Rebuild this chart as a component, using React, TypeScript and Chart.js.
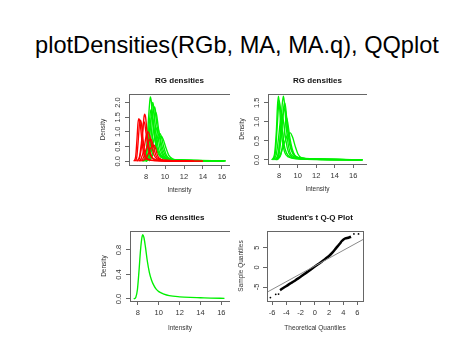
import React, { useEffect, useRef } from "react";
import { Chart, registerables } from "chart.js";
Chart.register(...registerables);

const FONT = "'Liberation Sans', Arial, Helvetica, sans-serif";

type Pt = [number, number];

// ---------- Panel 1 : RG densities (red + green) ----------
const RED_1: Pt[] = [[6.7, 0], [6.9, 0.15], [7.05, 0.8], [7.15, 1.3], [7.25, 1.45], [7.35, 1.35], [7.5, 0.9], [7.65, 0.45], [7.8, 0.2], [8.0, 0.08], [8.5, 0.03], [9.5, 0.01], [12, 0]];
const RED_2: Pt[] = [[6.8, 0], [7.0, 0.1], [7.15, 0.6], [7.3, 1.25], [7.4, 1.4], [7.5, 1.3], [7.65, 0.85], [7.8, 0.4], [8.0, 0.15], [8.3, 0.06], [9, 0.02], [11, 0.01], [13, 0]];
const RED_3: Pt[] = [[7.0, 0], [7.3, 0.1], [7.5, 0.45], [7.65, 1.0], [7.78, 1.5], [7.85, 1.6], [7.95, 1.5], [8.1, 1.0], [8.3, 0.5], [8.5, 0.22], [8.8, 0.08], [9.3, 0.03], [11, 0.01], [14, 0]];
const RED_4: Pt[] = [[7.0, 0], [7.3, 0.15], [7.5, 0.6], [7.65, 1.1], [7.75, 1.35], [7.85, 1.3], [8.0, 0.95], [8.2, 0.5], [8.45, 0.2], [8.8, 0.07], [9.5, 0.02], [12, 0]];
const RED_5: Pt[] = [[7.2, 0], [7.5, 0.1], [7.8, 0.45], [8.0, 0.85], [8.2, 1.0], [8.4, 0.85], [8.6, 0.5], [8.8, 0.25], [9.0, 0.12], [9.4, 0.05], [10, 0.02], [13, 0]];
const RED_6: Pt[] = [[7.3, 0], [7.7, 0.1], [8.0, 0.4], [8.3, 0.7], [8.5, 0.75], [8.7, 0.6], [8.9, 0.35], [9.1, 0.15], [9.4, 0.08], [9.8, 0.03], [11, 0.01], [14, 0]];
const RED_7: Pt[] = [[7.5, 0], [8.0, 0.1], [8.5, 0.45], [8.8, 0.55], [9.0, 0.45], [9.2, 0.2], [9.4, 0.1], [9.8, 0.04], [11, 0.02], [13, 0.01]];

const GREEN_1: Pt[] = [[7.6, 0], [7.9, 0.1], [8.1, 0.6], [8.25, 1.4], [8.38, 2.0], [8.45, 2.19], [8.55, 2.05], [8.7, 1.5], [8.9, 0.85], [9.1, 0.45], [9.4, 0.2], [9.8, 0.1], [10.5, 0.05], [12, 0.03], [14, 0.02], [16.4, 0.01]];
const GREEN_2: Pt[] = [[7.8, 0], [8.1, 0.1], [8.3, 0.5], [8.5, 1.3], [8.62, 1.85], [8.7, 2.0], [8.8, 1.85], [8.95, 1.3], [9.15, 0.7], [9.4, 0.32], [9.8, 0.14], [10.5, 0.06], [12, 0.035], [14, 0.02], [16.3, 0.01]];
const GREEN_3: Pt[] = [[7.9, 0], [8.2, 0.1], [8.45, 0.55], [8.65, 1.3], [8.8, 1.75], [8.9, 1.85], [9.0, 1.7], [9.15, 1.2], [9.35, 0.65], [9.6, 0.3], [10.0, 0.12], [11, 0.05], [13, 0.03], [16.2, 0.01]];
const GREEN_4: Pt[] = [[8.0, 0], [8.3, 0.1], [8.6, 0.6], [8.85, 1.35], [9.0, 1.62], [9.05, 1.65], [9.15, 1.5], [9.35, 1.0], [9.6, 0.45], [9.9, 0.18], [10.5, 0.07], [12, 0.03], [16, 0.01]];
const GREEN_5: Pt[] = [[7.7, 0], [8.0, 0.15], [8.25, 0.7], [8.45, 1.3], [8.6, 1.5], [8.75, 1.35], [8.95, 0.85], [9.2, 0.4], [9.5, 0.18], [10, 0.08], [11.5, 0.03], [16, 0.01]];
const GREEN_6: Pt[] = [[8.0, 0], [8.4, 0.1], [8.8, 0.35], [9.1, 0.6], [9.4, 0.8], [9.6, 0.85], [9.8, 0.75], [10.1, 0.45], [10.4, 0.2], [10.8, 0.08], [11.5, 0.04], [13, 0.02], [16.3, 0.01]];
const GREEN_7: Pt[] = [[8.0, 0], [8.4, 0.15], [8.7, 0.55], [9.0, 1.0], [9.2, 1.15], [9.4, 0.95], [9.65, 0.55], [9.95, 0.25], [10.3, 0.1], [11, 0.04], [13, 0.02], [16.2, 0.01]];
const GREEN_8: Pt[] = [[7.7, 0], [8.0, 0.2], [8.2, 0.8], [8.4, 1.5], [8.5, 1.75], [8.6, 1.7], [8.75, 1.25], [8.95, 0.7], [9.2, 0.35], [9.6, 0.14], [10.2, 0.06], [12, 0.03], [16.4, 0.01]];
const GREEN_9: Pt[] = [[8.3, 0], [8.7, 0.2], [9.0, 0.55], [9.3, 0.9], [9.45, 0.95], [9.6, 0.85], [9.85, 0.5], [10.15, 0.2], [10.6, 0.07], [12, 0.02], [16, 0.01]];

// ---------- Panel 2 : RG densities (green, normalised) ----------
const NORM_1: Pt[] = [[7.2, 0], [7.5, 0.15], [7.7, 0.75], [7.82, 1.4], [7.92, 1.67], [8.02, 1.5], [8.15, 1.0], [8.35, 0.5], [8.6, 0.2], [9.0, 0.08], [10, 0.03], [12, 0.015], [17, 0.005]];
const NORM_2: Pt[] = [[7.6, 0], [7.9, 0.15], [8.1, 0.6], [8.3, 1.35], [8.45, 1.67], [8.55, 1.55], [8.7, 1.1], [8.9, 0.55], [9.15, 0.22], [9.5, 0.1], [10.5, 0.04], [13, 0.02], [17, 0.005]];
const NORM_3: Pt[] = [[7.7, 0], [8.0, 0.15], [8.25, 0.7], [8.45, 1.3], [8.6, 1.5], [8.72, 1.35], [8.9, 0.85], [9.15, 0.4], [9.5, 0.15], [10, 0.07], [12, 0.025], [16.8, 0.005]];
const NORM_4: Pt[] = [[7.4, 0], [7.7, 0.15], [7.95, 0.6], [8.15, 1.05], [8.3, 1.2], [8.45, 1.05], [8.65, 0.65], [8.9, 0.3], [9.2, 0.12], [9.8, 0.05], [12, 0.02], [17, 0.005]];
const NORM_5: Pt[] = [[7.5, 0], [7.9, 0.15], [8.2, 0.7], [8.45, 1.2], [8.6, 1.35], [8.75, 1.2], [8.95, 0.8], [9.2, 0.4], [9.5, 0.18], [10, 0.07], [12, 0.025], [17, 0.005]];
const NORM_6: Pt[] = [[7.7, 0], [8.1, 0.12], [8.5, 0.4], [8.8, 0.6], [9.0, 0.68], [9.2, 0.71], [9.45, 0.6], [9.75, 0.35], [10.05, 0.15], [10.4, 0.06], [11.5, 0.03], [14, 0.015], [17, 0.005]];
const NORM_7: Pt[] = [[7.8, 0], [8.2, 0.15], [8.5, 0.6], [8.7, 1.0], [8.8, 1.1], [8.95, 0.95], [9.15, 0.6], [9.4, 0.3], [9.7, 0.12], [10.3, 0.05], [12, 0.02], [16.5, 0.005]];
const NORM_8: Pt[] = [[7.3, 0], [7.6, 0.2], [7.8, 0.9], [7.95, 1.45], [8.02, 1.55], [8.12, 1.4], [8.3, 0.9], [8.5, 0.45], [8.8, 0.18], [9.3, 0.07], [11, 0.02], [17, 0.005]];

// ---------- Panel 3 : RG densities (single) ----------
const SINGLE: Pt[] = [[7.6, 0], [7.8, 0.03], [7.95, 0.15], [8.1, 0.45], [8.25, 0.8], [8.38, 1.0], [8.47, 1.05], [8.58, 1.0], [8.72, 0.85], [8.9, 0.62], [9.1, 0.43], [9.3, 0.31], [9.5, 0.23], [9.75, 0.16], [10.0, 0.12], [10.5, 0.08], [11, 0.055], [12, 0.035], [13, 0.025], [14, 0.02], [15, 0.015], [16.3, 0.01]];

// ---------- Panel 4 : Student's t Q-Q plot ----------
const QQ_X = [-4.9, -4.5, -4.0, -3.5, -3.0, -2.5, -2.0, -1.5, -1.0, -0.5, 0, 0.5, 1.0, 1.5, 2.0, 2.5, 3.0, 3.5, 3.8, 4.0, 4.3, 4.7, 5.1];
const QQ_Y = [-5.8, -5.3, -4.75, -4.15, -3.6, -3.0, -2.4, -1.75, -1.1, -0.45, 0.2, 0.85, 1.5, 2.2, 2.9, 3.8, 4.9, 6.0, 6.7, 7.05, 7.35, 7.55, 7.8];
const QQ_OUT_X = [-6.25, -5.5, -5.1, 5.5, 6.15];
const QQ_OUT_Y = [-7.7, -6.85, -6.8, 8.5, 8.5];
const QQLINE_X = [-6.8, 6.8];
const QQLINE_Y = [-6.4, 7.1];

// ---------- tick labels ----------
const X_TICKS_DENS = [8, 10, 12, 14, 16];
const Y_TICKS_P1 = [0, 0.5, 1, 1.5, 2];
const Y_TICKS_P2 = [0, 0.5, 1, 1.5];
const Y_TICKS_P3 = [0, 0.4, 0.8];
const X_TICKS_QQ = [-6, -4, -2, 0, 2, 4, 6];
const Y_TICKS_QQ = [-5, 0, 5];

const MAIN_TITLE = "plotDensities(RGb, MA, MA.q), QQplot";

const RED = "#ff0000";
const GREEN = "#00f000";

const ML = 40, MT = 22, MB = 36, MR = 8;

const dens = (pts: Pt[], color: string) => ({
  data: pts.map(([x, y]) => ({ x, y })),
  borderColor: color,
  borderWidth: 1.35,
  pointRadius: 0,
  fill: false,
  cubicInterpolationMode: "monotone",
});

const boxPlugin = {
  id: "rbox",
  afterDraw(chart: any) {
    const { ctx, chartArea: a } = chart;
    ctx.save();
    ctx.strokeStyle = "#666";
    ctx.lineWidth = 1;
    ctx.strokeRect(Math.round(a.left) + 0.5, Math.round(a.top) + 0.5, Math.round(a.right - a.left), Math.round(a.bottom - a.top));
    ctx.restore();
  },
};

interface Spec {
  box: { L: number; T: number; R: number; B: number };
  x: [number, number];
  y: [number, number];
  xTicks: number[];
  yTicks: number[];
  yFmt: (v: number) => string;
  title: string;
  xTitle: string;
  yTitle: string;
  yTickPad: number;
  xTitlePad: number;
  datasets: any[];
}

function Panel({ spec }: { spec: Spec }) {
  const ref = useRef<HTMLCanvasElement>(null);
  const { L, T, R, B } = spec.box;
  const left = L - ML, top = T - MT, w = R - L + ML + MR, h = B - T + MT + MB;
  useEffect(() => {
    const chart = new Chart(ref.current as HTMLCanvasElement, {
      type: "line",
      data: { datasets: spec.datasets },
      plugins: [boxPlugin],
      options: {
        responsive: false,
        animation: false,
        devicePixelRatio: 1,
        layout: { padding: 0 },
        plugins: {
          legend: { display: false },
          tooltip: { enabled: false },
          title: {
            display: true,
            text: spec.title,
            fullSize: false,
            color: "#111",
            font: { family: FONT, size: 8, weight: "bold", lineHeight: 1.2 },
            padding: { top: 3.9, bottom: 8.5 },
          },
        },
        scales: {
          x: {
            type: "linear",
            min: spec.x[0],
            max: spec.x[1],
            bounds: "data",
            afterFit: (s: any) => { s.height = MB; },
            afterBuildTicks: (s: any) => { s.ticks = spec.xTicks.map((v) => ({ value: v })); },
            grid: { display: true, drawOnChartArea: false, drawTicks: true, tickLength: 4, color: "#666", lineWidth: 1 },
            border: { display: false },
            ticks: {
              autoSkip: false, maxRotation: 0, minRotation: 0, padding: 3.5,
              color: "#333", font: { family: FONT, size: 7.5, lineHeight: 1.2 },
              callback: (v: any) => String(v),
            },
            title: { display: true, text: spec.xTitle, color: "#333", font: { family: FONT, size: 6.5, lineHeight: 1.2 }, padding: { top: 0, bottom: spec.xTitlePad } },
          },
          y: {
            type: "linear",
            min: spec.y[0],
            max: spec.y[1],
            bounds: "data",
            afterFit: (s: any) => { s.width = ML; },
            afterBuildTicks: (s: any) => { s.ticks = spec.yTicks.map((v) => ({ value: v })); },
            grid: { display: true, drawOnChartArea: false, drawTicks: true, tickLength: 4, color: "#666", lineWidth: 1 },
            border: { display: false },
            ticks: {
              autoSkip: false, minRotation: 90, maxRotation: 90, crossAlign: "center", padding: spec.yTickPad,
              color: "#333", font: { family: FONT, size: 7.5, lineHeight: 1.2 },
              callback: (v: any) => spec.yFmt(Number(v)),
            },
            title: { display: true, text: spec.yTitle, color: "#333", font: { family: FONT, size: 6.5, lineHeight: 1.2 }, padding: { top: 10.6, bottom: 0 } },
          },
        },
      } as any,
    });
    return () => chart.destroy();
  }, []);
  return <canvas ref={ref} width={w} height={h} style={{ position: "absolute", left, top, width: w, height: h }} />;
}

const f1 = (v: number) => v.toFixed(1);
const fi = (v: number) => String(v);

const SPECS: Spec[] = [
  {
    box: { L: 129, T: 94, R: 222, B: 165 }, x: [6.2, 16.85], y: [-0.13, 2.29],
    xTicks: X_TICKS_DENS, yTicks: Y_TICKS_P1, yFmt: f1,
    title: "RG densities", xTitle: "Intensity", yTitle: "Density", yTickPad: 1.5, xTitlePad: 7,
    datasets: [
      ...[RED_1, RED_2, RED_3, RED_4, RED_5, RED_6, RED_7].map((p) => dens(p, RED)),
      ...[GREEN_1, GREEN_2, GREEN_3, GREEN_4, GREEN_5, GREEN_6, GREEN_7, GREEN_8, GREEN_9].map((p) => dens(p, GREEN)),
    ],
  },
  {
    box: { L: 268, T: 94, R: 359, B: 164 }, x: [6.8, 17.49], y: [-0.105, 1.73],
    xTicks: X_TICKS_DENS, yTicks: Y_TICKS_P2, yFmt: f1,
    title: "RG densities", xTitle: "Intensity", yTitle: "Density", yTickPad: 2, xTitlePad: 6.5,
    datasets: [NORM_1, NORM_2, NORM_3, NORM_4, NORM_5, NORM_6, NORM_7, NORM_8].map((p) => dens(p, GREEN)),
  },
  {
    box: { L: 130, T: 231, R: 222, B: 301 }, x: [7.24, 16.83], y: [-0.033, 1.11],
    xTicks: X_TICKS_DENS, yTicks: Y_TICKS_P3, yFmt: f1,
    title: "RG densities", xTitle: "Intensity", yTitle: "Density", yTickPad: 1.5, xTitlePad: 5,
    datasets: [dens(SINGLE, GREEN)],
  },
  {
    box: { L: 267, T: 231, R: 359, B: 301 }, x: [-6.73, 6.78], y: [-8.56, 9.25],
    xTicks: X_TICKS_QQ, yTicks: Y_TICKS_QQ, yFmt: fi,
    title: "Student's t Q-Q Plot", xTitle: "Theoretical Quantiles", yTitle: "Sample Quantiles", yTickPad: 3, xTitlePad: 5,
    datasets: [
      {
        data: QQLINE_X.map((x, i) => ({ x, y: QQLINE_Y[i] })),
        borderColor: "#8a8a8a", borderWidth: 1, pointRadius: 0, fill: false,
      },
      {
        data: QQ_X.map((x, i) => ({ x, y: QQ_Y[i] })),
        borderColor: "#000", borderWidth: 2.5, pointRadius: 0, fill: false, cubicInterpolationMode: "monotone",
      },
      {
        data: QQ_OUT_X.map((x, i) => ({ x, y: QQ_OUT_Y[i] })),
        showLine: false, pointRadius: 0.9, pointBorderWidth: 0, pointBackgroundColor: "#000", borderColor: "#000",
      },
    ],
  },
];

export default function App() {
  return (
    <div style={{ position: "absolute", left: 0, top: 0, width: 474, height: 355, background: "#fff", overflow: "hidden" }}>
      <div
        style={{
          position: "absolute", left: 0, top: 29, width: 474, height: 32, lineHeight: "32px",
          textAlign: "center", fontFamily: FONT, fontSize: 23.6, color: "#000", whiteSpace: "nowrap",
        }}
      >
        {MAIN_TITLE}
      </div>
      {SPECS.map((s, i) => (
        <Panel key={i} spec={s} />
      ))}
    </div>
  );
}
